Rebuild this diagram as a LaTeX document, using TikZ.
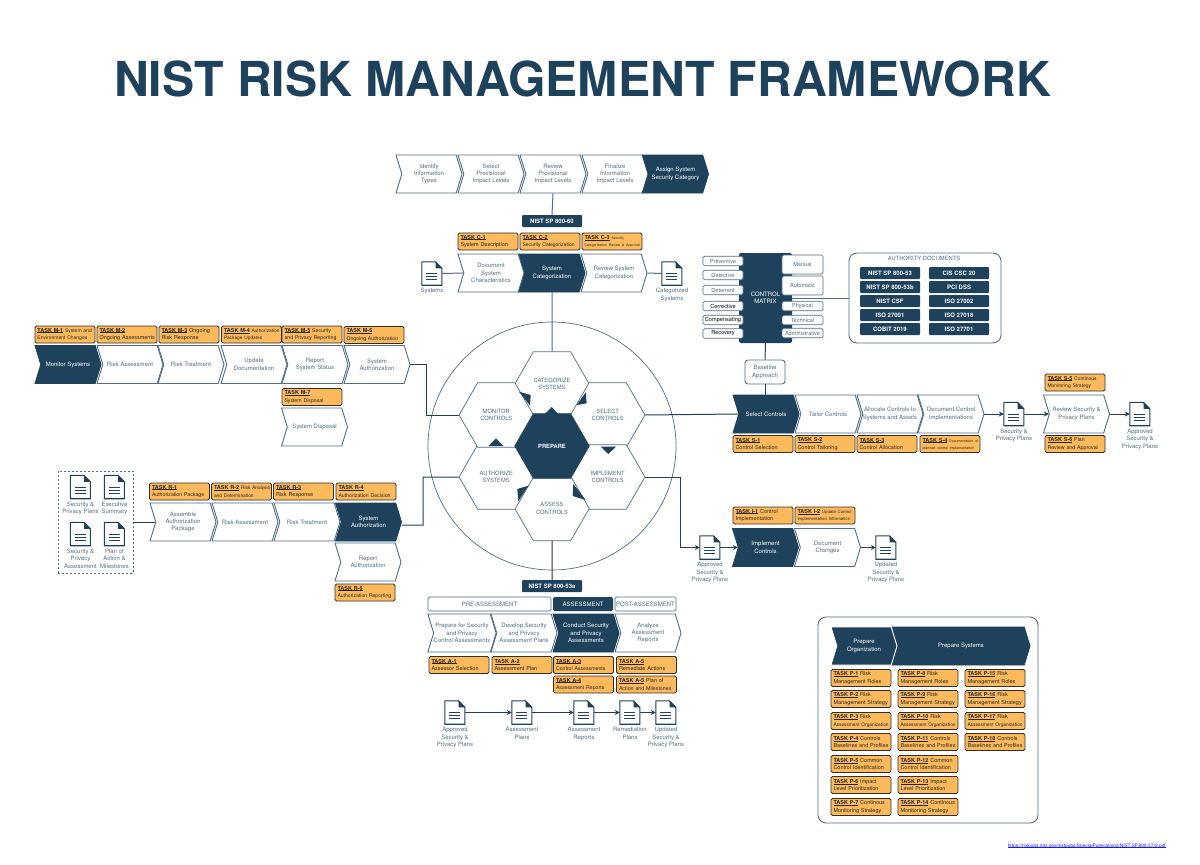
\documentclass[tikz,border=0pt]{standalone}
\usepackage{fontspec}
\setmainfont{TeX Gyre Heros}
\usetikzlibrary{positioning,arrows.meta,shapes.geometric,shapes.symbols}
\definecolor{navy}{HTML}{1F425C}
\definecolor{slate}{HTML}{4F6E88}
\definecolor{taskfill}{HTML}{FDBA5C}
\definecolor{taskline}{HTML}{33302A}
\definecolor{urlblue}{HTML}{1A1AE0}
\newcommand{\fs}[2]{\fontsize{#1}{#2}\selectfont}
\newcommand{\smt}{\fs{4.8}{7}}
\newcommand{\tnt}{\fs{3.6}{7}}
\newcommand{\und}[1]{\leavevmode\setbox0\hbox{#1}\rlap{\rule[-0.55pt]{\wd0}{0.45pt}}\box0\relax}
\newcommand{\tk}[3]{\mbox{\und{\textbf{#1}} #2}\\\mbox{#3}}
\tikzset{
  chev/.style={shape=signal,signal from=west,signal to=east,signal pointer angle=146,
    draw=slate,fill=white,text=slate,line width=0.9pt,minimum width=66pt,minimum height=38pt,
    inner sep=0pt,align=center,font=\fs{6}{7.3}},
  chevdark/.style={chev,draw=navy,fill=navy,text=white},
  taskbox/.style={draw=taskline,fill=taskfill,text=black!85,line width=0.8pt,rounded corners=1.5pt,
    minimum width=60pt,minimum height=17pt,text width=55pt,inner xsep=2.5pt,inner ysep=0pt,
    align=left,font=\fs{5.5}{7.2}},
  darkbox/.style={fill=navy,text=white,rounded corners=1pt,minimum width=60pt,minimum height=12pt,
    inner sep=0pt,font=\bfseries\fs{6}{7}},
  optbox/.style={draw=slate,fill=white,text=slate,line width=0.7pt,rounded corners=1.5pt,
    minimum width=40pt,minimum height=9.5pt,inner sep=0pt,align=center,font=\fs{5.6}{7}},
  hexbox/.style={shape=regular polygon,regular polygon sides=6,
    draw=slate,fill=white,text=slate,line width=0.7pt,minimum size=74.5pt,inner sep=0pt,
    align=center,font=\fs{5.8}{7.3}},
  docbox/.style={minimum width=20pt,minimum height=23pt,inner sep=0pt},
  doclabel/.style={text=slate,inner sep=0pt,align=center,font=\fs{6}{7.5}},
  link/.style={draw=navy,line width=1pt},
  linkup/.style={draw=slate,line width=1pt},
  flow/.style={link,-{Stealth[length=5pt,width=5pt]}},
  wedge/.style={fill=navy,draw=none},
}
\newcommand{\docicon}[4]{%
  \node[docbox] (#1) at (#2,#3) {};
  \draw[navy,line width=1.1pt,fill=white] (#1.north west) -- ++(13.5,0) -- ++(6.5,6.5) |- (#1.south west) -- cycle;
  \fill[navy] (#1.north east) ++(-6.5,0) -- ++(6.5,6.5) -- ++(-6.5,0) -- cycle;
  \foreach \r in {12,15,18}
  {  \draw[navy,line width=0.8pt] (#1.north west) ++(4.5,\r) -- ++(11,0);
  }
  \node[doclabel,below=3pt of #1] (#1txt) {#4};
}
\begin{document}
\begin{tikzpicture}[x=1pt,y=-1pt]
\useasboundingbox (0,0) rectangle (1200,865);
\fill[white] (0,0) rectangle (1200,865);
\node[text=navy,inner sep=0pt,font=\bfseries\fs{48.2}{50}] (title) at (582.5,79) {NIST RISK MANAGEMENT FRAMEWORK};
\node[text=urlblue,inner sep=0pt,anchor=east,font=\fs{4.8}{6}] (srcurl) at (1166,846) {\und{https://nvlpubs.nist.gov/nistpubs/SpecialPublications/NIST.SP.800-37r2.pdf}};
% wheel in the middle
\node[circle,draw=slate,line width=0.7pt,minimum size=248pt,inner sep=0pt] (wheel) at (552,446) {};
\node[hexbox] (hcat) at (552,384) {CATEGORIZE\\SYSTEMS};
\node[hexbox] (hsel) at (607.7,415) {SELECT\\CONTROLS};
\node[hexbox] (himp) at (607.7,477) {IMPLEMENT\\CONTROLS};
\node[hexbox] (hass) at (552,508.5) {ASSESS\\CONTROLS};
\node[hexbox] (haut) at (496.3,477) {AUTHORIZE\\SYSTEMS};
\node[hexbox] (hmon) at (496.3,415) {MONITOR\\CONTROLS};
\node[hexbox,fill=navy,draw=navy,text=white,font=\bfseries\fs{5.8}{7.3}] (hpre) at (552,446) {PREPARE};
\fill[wedge] (544,415) -- (559.3,415) -- (551.7,407) -- cycle;
\fill[wedge] (585.7,392.3) -- (576.7,405) -- (586.7,403.3) -- cycle;
\fill[wedge] (600.7,446.7) -- (616,446.7) -- (608.3,454) -- cycle;
\fill[wedge] (573.3,484) -- (572.7,496) -- (585.7,500) -- cycle;
\fill[wedge] (528.3,485.7) -- (517.3,489) -- (518.3,501.3) -- cycle;
\fill[wedge] (488.3,446) -- (503.3,446) -- (496,438.3) -- cycle;
\fill[wedge] (519,391.7) -- (530.7,395) -- (530,405.7) -- cycle;
% categorize
\foreach \nm/\x/\txt in {ca/396/{Identify\\Information\\Types},cb/458/{Select\\Provisional\\Impact Levels},cc/520/{Review\\Provisional\\Impact Levels},cd/582/{Finalize\\Information\\Impact Levels}}
{  \node[chev] (\nm) at (\x+33,174) {\txt};
}
\node[chevdark] (ce) at (675.5,174) {Assign System\\Security Category};
\node[darkbox] (sp60) at (552,221) {NIST SP 800-60};
\node[taskbox] (tc1) at (488,241.5) {\tk{TASK C-1}{}{System Description}};
\node[taskbox] (tc2) at (550,241.5) {\tk{TASK C-2}{}{\fs{5}{7}Security Categorization}};
\node[taskbox] (tc3) at (612,241.5) {\tk{TASK C-3}{\fs{3.5}{7}Security}{\fs{3.5}{7}Categorization Review \& Approval}};
\node[chev] (cf) at (491,273) {Document\\System\\Characteristics};
\node[chevdark] (cg) at (552,273) {System\\Categorization};
\node[chev] (ch) at (614,273) {Review System\\Categorization};
\docicon{dsys}{432}{273.5}{Systems}
\docicon{dcat}{672}{273.5}{Categorized\\Systems}
\draw[linkup] (dsys.east) -- (cf.west);
\draw[linkup] (ch.east) -- (dcat.west);
\draw[linkup] (cc.south) ++(0,0) -- (sp60.north);
\draw[linkup] (cg.south) -- (hcat.north);
% control matrix
\node[fill=navy,text=white,rounded corners=2pt,minimum width=53pt,minimum height=90pt,inner sep=0pt,align=center,font=\fs{6}{7.3}] (matrix) at (765.5,298) {CONTROL\\MATRIX};
\foreach \nm/\y/\txt/\col in {mpre/261/Preventive/slate,mdet/275/Detective/slate,mdtr/290/Deterrent/slate,mcor/306/Corrective/black,mcom/320/Compensating/black,mrec/333.5/Recovery/black}
{  \node[optbox,text=\col] (\nm) at (723,\y) {\txt};
}
\node[optbox,minimum width=41pt,minimum height=19pt] (mman) at (802.5,264.5) {Manual};
\node[optbox,minimum width=41pt,minimum height=19pt] (maut) at (802.5,285.5) {Automatic};
\foreach \nm/\y/\txt in {mphy/306/Physical,mtec/320/Technical,madm/333/Administrative}
{  \node[optbox,minimum width=41pt] (\nm) at (802.5,\y) {\txt};
}
\node[draw=slate,fill=white,line width=0.9pt,rounded corners=8pt,minimum width=152pt,minimum height=90pt] (authbox) at (925,298) {};
\node[text=slate,inner sep=0pt,font=\fs{5.8}{7}] (authtitle) at (924,258) {AUTHORITY DOCUMENTS};
\foreach \nm/\y/\txta/\txtb in {a/273/NIST SP 800-53/CIS CSC 20,b/287/NIST SP 800-53b/PCI DSS,c/301/NIST CSF/ISO 27002,d/315/ISO 27001/ISO 27018,e/329/COBIT 2019/ISO 27701}
{  \node[darkbox] (ad\nm) at (890,\y) {\txta};
   \node[darkbox] (bd\nm) at (959,\y) {\txtb};
}
\draw[linkup] (matrix.east) -- (authbox.west);
\node[draw=slate,fill=white,text=slate,line width=0.9pt,rounded corners=3pt,minimum width=40pt,minimum height=24pt,inner sep=0pt,align=center,font=\fs{6}{7.3}] (base) at (765,372) {Baseline\\Approach};
\draw[link] (matrix.south) -- (base.north);
% select
\node[chevdark] (sa) at (766,414) {Select Controls};
\node[chev] (sb) at (828,414) {Tailor Controls};
\node[chev] (sc) at (890,414) {Allocate Controls to\\Systems and Assets};
\node[chev] (sd) at (951,414) {Document Control\\Implementations};
\draw[link] (base.south) -- (base.south |- sa.north);
\draw[link] (hsel.east) -- (sa.west);
\node[taskbox] (ts1) at (763,444) {\tk{TASK S-1}{}{Control Selection}};
\node[taskbox] (ts2) at (825,444) {\tk{TASK S-2}{}{Control Tailoring}};
\node[taskbox] (ts3) at (887,444) {\tk{TASK S-3}{}{Control Allocation}};
\node[taskbox] (ts4) at (950,444) {\tk{TASK S-4}{\tnt Documentation of}{\tnt planned control implementation}};
\docicon{dspp}{1014}{414}{Security \&\\Privacy Plans}
\node[chev] (se) at (1076.5,414) {Review Security \&\\Privacy Plans};
\docicon{dapp}{1140}{414}{Approved\\Security \&\\Privacy Plans}
\node[taskbox] (ts5) at (1075,382.5) {\tk{TASK S-5}{\fs{5}{7}Continous}{\fs{5}{7}Monitoring Strategy}};
\node[taskbox] (ts6) at (1075,444) {\tk{TASK S-6}{\fs{5.3}{7}Plan}{\fs{5.3}{7}Review and Approval}};
\draw[flow] (sd.east) -- (dspp.west);
\draw[flow] (dspp.east) -- (se.west);
\draw[flow] (se.east) -- (dapp.west);
% implement
\coordinate (impturn) at (680,547.5);
\node[chevdark] (ia) at (765.5,547.5) {Implement\\Controls};
\node[chev] (ib) at (827.5,547.5) {Document\\Changes};
\docicon{dapp2}{710}{547.5}{Approved\\Security \&\\Privacy Plans}
\docicon{dupd}{886}{547.5}{Updated\\Security \&\\Privacy Plans}
\node[taskbox] (ti1) at (763,515.5) {\tk{TASK I-1}{Control}{Implementation}};
\node[taskbox] (ti2) at (825,515.5) {\tk{TASK I-2}{\fs{4.3}{7}Update Control}{\fs{4.3}{7}Implementation Information}};
\draw[link] (himp.east) -| (impturn);
\draw[flow] (impturn) -- (dapp2.west);
\draw[flow] (dapp2.east) -- (ia.west);
\draw[flow] (ib.east) -- (dupd.west);
% monitor
\foreach \nm/\x/\txt in {mb/97/Risk Assessment,mc/158/Risk Treatment,md/221/{Update\\Documentation},me/282/{Report\\System Status},mf/344/{System\\Authorization}}
{  \node[chev] (\nm) at (\x+33,364.5) {\txt};
}
\node[chevdark] (ma) at (68,364.5) {Monitor Systems};
\node[chev] (mg) at (314.5,427) {System Disposal};
\node[taskbox] (tm1) at (65,334.5) {\tk{TASK M-1}{\fs{5}{7}System and}{\fs{5}{7}Environment Changes}};
\node[taskbox] (tm2) at (127,334.5) {\tk{TASK M-2}{}{Ongoing Assessments}};
\node[taskbox] (tm3) at (189,334.5) {\tk{TASK M-3}{Ongoing}{Risk Response}};
\node[taskbox] (tm4) at (251.5,334.5) {\tk{TASK M-4}{\smt Authorization}{\smt Package Updates}};
\node[taskbox] (tm5) at (312,334.5) {\tk{TASK M-5}{\fs{5.2}{7}Security}{\fs{5.2}{7}and Privacy Reporting}};
\node[taskbox] (tm6) at (374,335) {\tk{TASK M-6}{}{\fs{5.2}{7}Ongoing Authorization}};
\node[taskbox] (tm7) at (312,397) {\tk{TASK M-7}{}{\fs{5.2}{7}System Disposal}};
\coordinate (monturn) at (426,364.5);
\draw[link] (mf.east) -- (monturn) |- (hmon.west);
% authorize
\foreach \nm/\x/\txt in {ra/150/{Assemble\\Authorization\\Package},rb/212/Risk Assessment,rc/274/Risk Treatment}
{  \node[chev] (\nm) at (\x+33,522) {\txt};
}
\node[chevdark] (rd) at (368.5,522) {System\\Authorization};
\node[chev] (re) at (368,562) {Report\\Authorization};
\node[taskbox] (tr1) at (179.5,491.5) {\tk{TASK R-1}{}{\fs{5.2}{7}Authorization Package}};
\node[taskbox] (tr2) at (241.5,491.5) {\tk{TASK R-2}{\smt Risk Analysis}{\smt and Determination}};
\node[taskbox] (tr3) at (303.5,491.5) {\tk{TASK R-3}{}{Risk Response}};
\node[taskbox] (tr4) at (366,491.5) {\tk{TASK R-4}{}{\fs{5.2}{7}Authorization Decision}};
\node[taskbox] (tr5) at (365,592.5) {\tk{TASK R-5}{}{\fs{5.1}{7}Authorization Reporting}};
\node[draw=slate,dash pattern=on 2pt off 2pt,line width=0.9pt,minimum width=75pt,minimum height=102pt,inner sep=0pt] (pack) at (95.5,522) {};
\docicon{dr1}{80.5}{487}{Security \&\\Privacy Plans}
\docicon{dr2}{114.5}{487}{Executive\\Summary}
\docicon{dr3}{80.5}{534}{Security \&\\Privacy\\Assessment}
\docicon{dr4}{114.5}{534}{Plan of\\Action \&\\Milestones}
\draw[link] (pack.east) -- (ra.west);
\coordinate (authturna) at (423,477);
\coordinate (authturnb) at (423,525);
\draw[link] (haut.west) -- (authturna) -- (authturnb) -- (rd.east |- authturnb);
% assess
\node[darkbox] (sp53a) at (552,586) {NIST SP 800-53a};
\draw[draw=black!80,line width=1pt] (hass.south) -- (sp53a.north);
\node[optbox,minimum width=123pt,minimum height=14pt,font=\fs{6}{7}] (apre) at (489.5,604) {PRE-ASSESSMENT};
\node[darkbox,rounded corners=1.5pt,minimum height=14pt,font=\fs{6}{7}] (amid) at (583,604) {ASSESSMENT};
\node[optbox,minimum width=61pt,minimum height=14pt,font=\fs{6}{7}] (apost) at (645.5,604) {POST-ASSESSMENT};
\node[chev] (aa) at (462,633) {Prepare for Security\\and Privacy\\Control Assessments};
\node[chev] (ab) at (524,633) {Develop Security\\and Privacy\\Assessment Plans};
\node[chevdark] (ac) at (586,633) {Conduct Security\\and Privacy\\Assessments};
\node[chev] (ad) at (648,633) {Analyze\\Assessment\\Reports};
\node[taskbox] (ta1) at (459,665) {\tk{TASK A-1}{}{Assessor Selection}};
\node[taskbox] (ta2) at (522,665) {\tk{TASK A-2}{}{Assessment Plan}};
\node[taskbox] (ta3) at (583.5,665) {\tk{TASK A-3}{}{\fs{5.2}{7}Control Assessments}};
\node[taskbox] (ta5) at (646.5,665) {\tk{TASK A-5}{}{Remediate Actions}};
\node[taskbox] (ta4) at (583.5,684.5) {\tk{TASK A-4}{}{\fs{5.2}{7}Assessment Reports}};
\node[taskbox] (ta6) at (646.5,684.5) {\tk{TASK A-5}{Plan of}{\fs{5.3}{7}Action and Milestones}};
\docicon{dba}{455}{712.5}{Approved\\Security \&\\Privacy Plans}
\docicon{dbb}{522}{712.5}{Assessment\\Plans}
\docicon{dbc}{584}{712.5}{Assessment\\Reports}
\docicon{dbd}{630}{712.5}{Remediation\\Plans}
\docicon{dbe}{666}{712.5}{Updated\\Security \&\\Privacy Plans}
\foreach \p/\q in {dba/dbb,dbb/dbc,dbc/dbd,dbd/dbe}
{  \draw[flow] (\p.east) -- (\q.west);
}
% prepare
\node[draw=slate,fill=white,line width=0.9pt,rounded corners=8pt,minimum width=220pt,minimum height=206pt] (prebox) at (928,720) {};
\node[chevdark,minimum width=138pt] (pb) at (961,646) {Prepare Systems};
\node[chev,draw=white,fill=navy,text=white,minimum width=66pt] (pa) at (864,646) {Prepare\\Organization};
\foreach \i/\a/\b/\c in {0/Risk/Management Roles/1,1/Risk/Management Strategy/2,2/Risk/\smt Assessment Organization/3,3/Controls/Baselines and Profiles/4,4/Common/Control Identification/5,5/Impact/Level Prioritization/6,6/Continous/Monitoring Strategy/7}
{  \pgfmathtruncatemacro{\yy}{678+21.5*\i}
   \pgfmathtruncatemacro{\d}{\c+7}
   \node[taskbox] (tp\c) at (861,\yy) {\tk{TASK P-\c}{\a}{\b}};
   \node[taskbox] (tp\d) at (928,\yy) {\tk{TASK P-\d}{\a}{\b}};
}
\foreach \i/\a/\b/\c in {0/Risk/Management Roles/15,1/Risk/Management Strategy/16,2/Risk/\smt Assessment Organization/17,3/Controls/Baselines and Profiles/18}
{  \pgfmathtruncatemacro{\yy}{678+21.5*\i}
   \node[taskbox] (tp\c) at (995,\yy) {\tk{TASK P-\c}{\a}{\b}};
}
\end{tikzpicture}
\end{document}
